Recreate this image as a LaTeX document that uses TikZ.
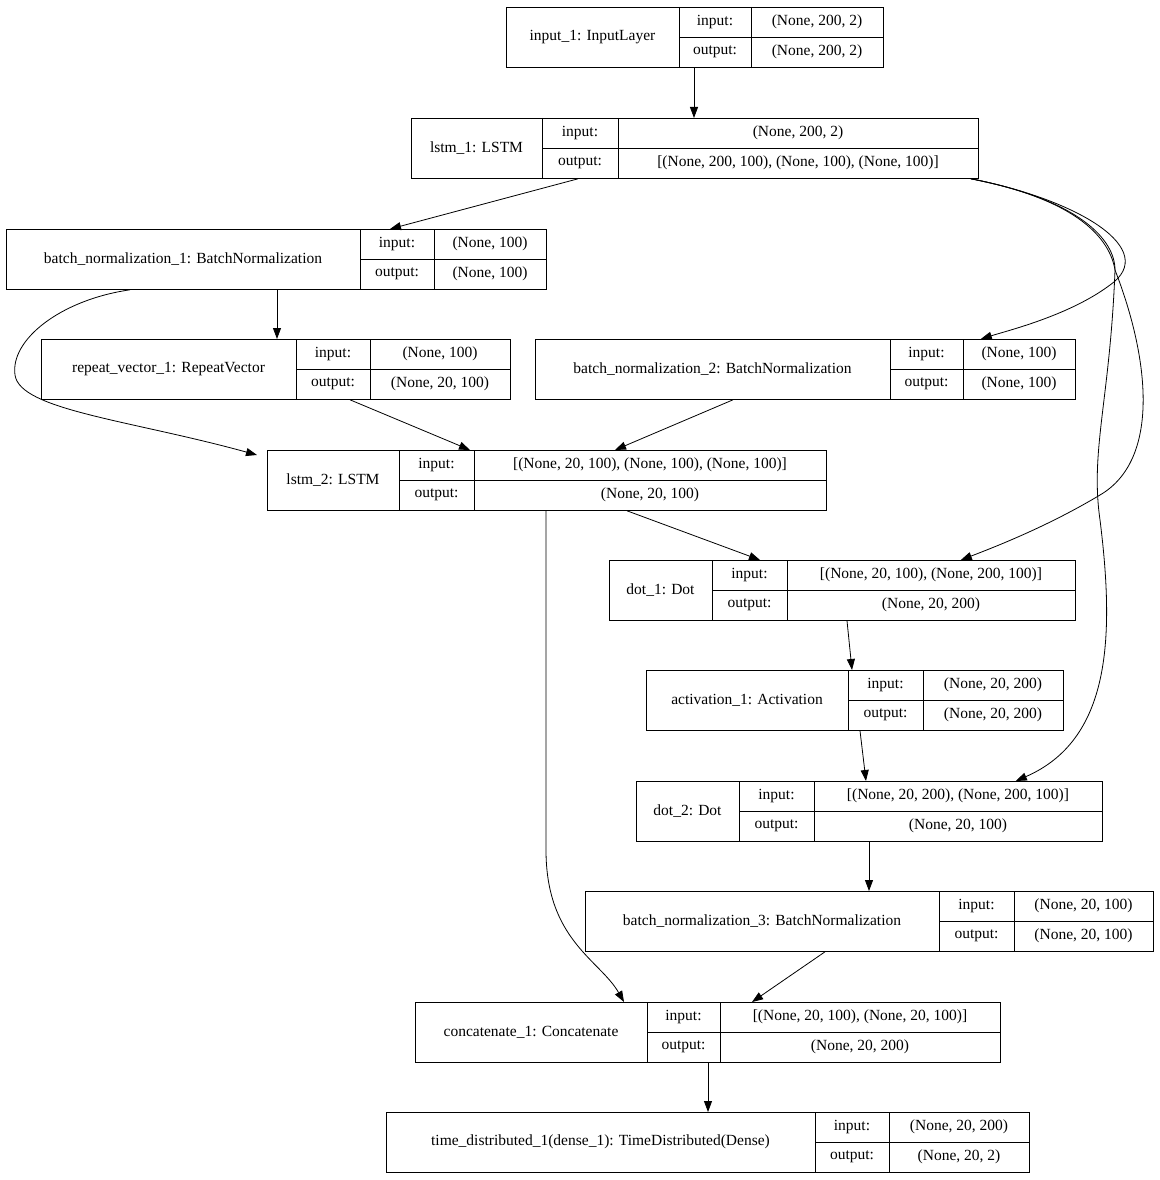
\documentclass[tikz,border=0pt]{standalone}
\usepackage{fontspec}
\setmainfont{Liberation Serif}
\usetikzlibrary{arrows.meta}
\tikzset{
  box/.style={draw, inner sep=0pt, anchor=north west, minimum height=60pt},
  txt/.style={inner sep=0pt, font=\fontsize{15.5}{18}\selectfont},
  edge/.style={-{Triangle[length=11pt,width=8pt]}, line width=0.8pt}
}
% name, x0, x1, x2, x3, ytop, label, input, output
\newcommand\layerbox[9]{%
  \node[box, minimum width={#5pt-#2pt}] (#1) at (#2,#6) {};
  \draw (#3,#6) -- (#3,#6+60) (#4,#6) -- (#4,#6+60) (#3,#6+30) -- (#5,#6+30);
  \node[txt] at ({(#2+#3)/2},#6+30) {#7};
  \node[txt] at ({(#3+#4)/2},#6+15) {input:};
  \node[txt] at ({(#3+#4)/2},#6+45) {output:};
  \node[txt] at ({(#4+#5)/2},#6+15) {#8};
  \node[txt] at ({(#4+#5)/2},#6+45) {#9};
}
\begin{document}
\begin{tikzpicture}[x=1pt, y=-1pt, line width=0.8pt]
\useasboundingbox (0,0) rectangle (1159,1180);

\layerbox{L1}{506}{679}{751}{883}{7}{input\_1: InputLayer}{(None, 200, 2)}{(None, 200, 2)}
\layerbox{L2}{411}{542}{618}{978}{118}{lstm\_1: LSTM}{(None, 200, 2)}{[(None, 200, 100), (None, 100), (None, 100)]}
\layerbox{L3}{6}{360}{434}{546}{229}{batch\_normalization\_1: BatchNormalization}{(None, 100)}{(None, 100)}
\layerbox{L4}{41}{296}{370}{510}{339}{repeat\_vector\_1: RepeatVector}{(None, 100)}{(None, 20, 100)}
\layerbox{L5}{535}{890}{963}{1075}{339}{batch\_normalization\_2: BatchNormalization}{(None, 100)}{(None, 100)}
\layerbox{L6}{267}{399}{474}{826}{450}{lstm\_2: LSTM}{[(None, 20, 100), (None, 100), (None, 100)]}{(None, 20, 100)}
\layerbox{L7}{609}{712}{787}{1075}{560}{dot\_1: Dot}{[(None, 20, 100), (None, 200, 100)]}{(None, 20, 200)}
\layerbox{L8}{646}{848}{923}{1063}{670}{activation\_1: Activation}{(None, 20, 200)}{(None, 20, 200)}
\layerbox{L9}{636}{739}{814}{1102}{781}{dot\_2: Dot}{[(None, 20, 200), (None, 200, 100)]}{(None, 20, 100)}
\layerbox{L10}{585}{939}{1014}{1153}{891}{batch\_normalization\_3: BatchNormalization}{(None, 20, 100)}{(None, 20, 100)}
\layerbox{L11}{415}{647}{720}{1000}{1002}{concatenate\_1: Concatenate}{[(None, 20, 100), (None, 20, 100)]}{(None, 20, 200)}
\layerbox{L12}{386}{815}{889}{1029}{1112}{time\_distributed\_1(dense\_1): TimeDistributed(Dense)}{(None, 20, 200)}{(None, 20, 2)}

% connectors
\draw[edge] ([xshift=188pt]L1.south west) -- ([xshift=283pt]L2.north west);
\draw[edge] ([xshift=167pt]L2.south west) -- ([xshift=384pt]L3.north west);
\draw[edge] ([xshift=-8pt]L2.south east) .. controls (1080,200) and (1160,250) .. (1110,285)
  .. controls (1070,315) and (1010,330) .. ([xshift=-95pt]L5.north east);
\draw[edge] ([xshift=-8pt]L2.south east) .. controls (1080,200) and (1110,240) .. (1115,270)
  .. controls (1150,360) and (1160,460) .. (1100,495)
  .. controls (1050,525) and (1000,545) .. ([xshift=-115pt]L7.north east);
\draw[edge] ([xshift=-8pt]L2.south east) .. controls (1080,200) and (1115,240) .. (1115,270)
  .. controls (1110,400) and (1090,450) .. (1100,520)
  .. controls (1115,640) and (1110,740) .. ([xshift=-87pt]L9.north east);
\draw[edge] ([xshift=271pt]L3.south west) -- ([xshift=236pt]L4.north west);
\draw[edge] ([xshift=124pt]L3.south west) .. controls (60,300) and (10,340) .. (15,375)
  .. controls (20,410) and (130,420) .. ([xshift=-10pt,yshift=-5pt]L6.north west);
\draw[edge] ([xshift=309pt]L4.south west) -- ([xshift=203pt]L6.north west);
\draw[edge] ([xshift=198pt]L5.south west) -- ([xshift=348pt]L6.north west);
\draw[edge] ([xshift=360pt]L6.south west) -- ([xshift=151pt]L7.north west);
\draw[edge] ([xshift=279pt]L6.south west) -- (546,850) .. controls (546,940) and (600,960) .. ([xshift=209pt]L11.north west);
\draw[edge] ([xshift=238pt]L7.south west) -- ([xshift=206pt]L8.north west);
\draw[edge] ([xshift=214pt]L8.south west) -- ([xshift=230pt]L9.north west);
\draw[edge] ([xshift=233pt]L9.south west) -- ([xshift=284pt]L10.north west);
\draw[edge] ([xshift=240pt]L10.south west) -- ([xshift=337pt]L11.north west);
\draw[edge] ([xshift=293pt]L11.south west) -- ([xshift=322pt]L12.north west);
\end{tikzpicture}
\end{document}
